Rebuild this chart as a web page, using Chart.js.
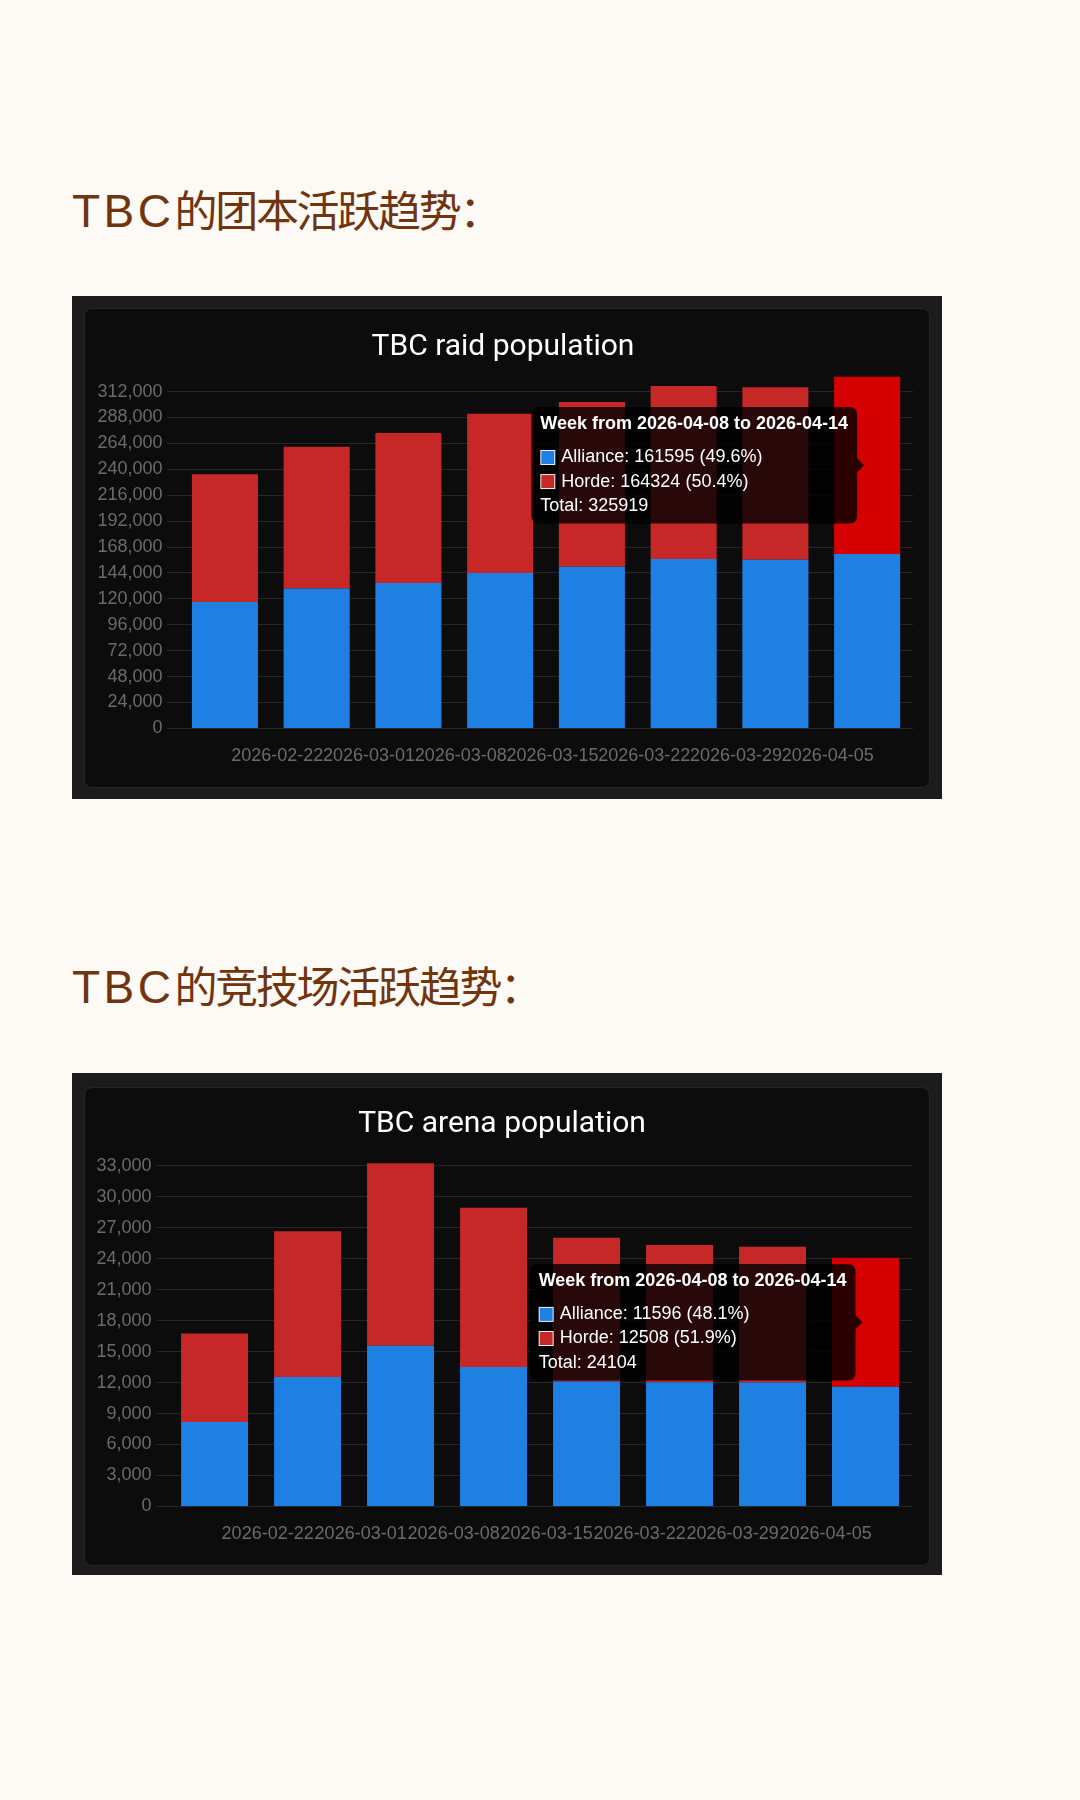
<!DOCTYPE html>
<html lang="zh">
<head>
<meta charset="UTF-8">
<title>TBC population</title>
<script src="https://cdn.jsdelivr.net/npm/chart.js@4.4.1/dist/chart.umd.min.js"></script>
<style>
  body { margin: 0; background: #fdfaf5; }
  .page { position: relative; width: 1080px; height: 1800px; }
  .heading {
    position: absolute; left: 72px; margin: 0;
    font-family: 'Liberation Sans', 'Noto Sans CJK SC', sans-serif;
    font-size: 43px; line-height: 46px; font-weight: normal; color: #70340f;
    letter-spacing: -2.3px; white-space: nowrap;
  }
  .heading span { font-size: 46px; letter-spacing: 3.5px; }
  .frame { position: absolute; left: 72px; width: 870px; background: #1c1c1c; }
  .inner {
    position: absolute; left: 12px; top: 12px; width: 846px;
    box-sizing: border-box; background: #0c0c0c;
    border: 1px solid #262626; border-radius: 8px;
  }
  .holder { position: absolute; left: 12px; top: 12px; width: 846px; }
</style>
</head>
<body>
<div class="page">
  <h2 class="heading" style="top:188px"><span>TBC</span>的团本活跃趋势：</h2>
  <div class="frame" style="top:296px; height:503px">
    <div class="inner" style="height:480px"></div>
    <div class="holder" style="height:480px"><canvas id="raidChart"></canvas></div>
  </div>

  <h2 class="heading" style="top:964px"><span>TBC</span>的竞技场活跃趋势：</h2>
  <div class="frame" style="top:1073px; height:502px">
    <div class="inner" style="top:14px; height:479px"></div>
    <div class="holder" style="top:14px; height:479px"><canvas id="arenaChart"></canvas></div>
  </div>
</div>

<script>
// weeks (bars) and the sunday tick labels between them
const weekStarts = ['2026-02-18', '2026-02-25', '2026-03-04', '2026-03-11', '2026-03-18', '2026-03-25', '2026-04-01', '2026-04-08'];
const weekEnds = ['2026-02-24', '2026-03-03', '2026-03-10', '2026-03-17', '2026-03-24', '2026-03-31', '2026-04-07', '2026-04-14'];
const xTickLabels = ['2026-02-22', '2026-03-01', '2026-03-08', '2026-03-15', '2026-03-22', '2026-03-29', '2026-04-05'];

const raidAlliance = [117000, 129700, 134600, 143900, 149800, 156900, 156300, 161595];
const raidHorde = [118500, 131200, 139000, 147600, 152600, 160300, 159700, 164324];
const raidYTicks = [0, 24000, 48000, 72000, 96000, 120000, 144000, 168000, 192000, 216000, 240000, 264000, 288000, 312000];
const raidYMax = 326000;

const arenaAlliance = [8190, 12550, 15560, 13520, 12100, 12030, 12000, 11596];
const arenaHorde = [8570, 14110, 17700, 15430, 13940, 13300, 13170, 12508];
const arenaYTicks = [0, 3000, 6000, 9000, 12000, 15000, 18000, 21000, 24000, 27000, 30000, 33000];
const arenaYMax = 34200;

const allianceColor = '#1f80e4';
const hordeColor = '#c62828';
const hordeHover = '#d50000';

Chart.defaults.font.family = "'Liberation Sans', Arial, sans-serif";
Chart.defaults.font.size = 18;
Chart.defaults.color = '#6b6b6b';

function makeChart(id, title, alliance, horde, yTicks, yMax, pad, labelOffset) {
    const ctx = document.getElementById(id).getContext('2d');
    const chart = new Chart(ctx, {
        type: 'bar',
        data: {
            labels: weekStarts,
            datasets: [{
                label: 'Alliance',
                data: alliance,
                backgroundColor: allianceColor,
                hoverBackgroundColor: allianceColor
            }, {
                label: 'Horde',
                data: horde,
                backgroundColor: hordeColor,
                hoverBackgroundColor: hordeHover
            }]
        },
        options: {
            responsive: true,
            maintainAspectRatio: false,
            animation: false,
            layout: { padding: pad },
            interaction: { mode: 'index', intersect: false },
            scales: {
                x: {
                    stacked: true,
                    grid: { display: true, drawOnChartArea: false, color: 'transparent', tickLength: 12 },
                    border: { display: false },
                    ticks: {
                        autoSkip: false, maxRotation: 0, minRotation: 0,
                        padding: 4.5, labelOffset: labelOffset,
                        callback: (v, i) => xTickLabels[i] || ''
                    }
                },
                y: {
                    stacked: true,
                    min: 0,
                    max: yMax,
                    grid: { color: '#262626', tickLength: 12 },
                    border: { display: false },
                    ticks: { autoSkip: false, padding: 4.5 },
                    afterBuildTicks: (axis) => {
                        axis.ticks = yTicks.map(v => ({ value: v }));
                    }
                }
            },
            plugins: {
                legend: { display: false },
                title: {
                    display: true,
                    text: title,
                    color: '#ffffff',
                    font: { family: 'Roboto', size: 30, weight: 'normal' },
                    padding: { top: 19, bottom: 11 }
                },
                tooltip: {
                    xAlign: 'right',
                    yAlign: 'center',
                    backgroundColor: 'rgba(0,0,0,0.8)',
                    titleColor: '#fff',
                    bodyColor: '#fff',
                    titleFont: { size: 18, weight: 'bold' },
                    bodyFont: { size: 18 },
                    padding: { left: 9, right: 9, top: 6, bottom: 7 },
                    titleMarginBottom: 12,
                    bodySpacing: 2.5,
                    caretSize: 7,
                    caretPadding: 3,
                    cornerRadius: 8,
                    boxWidth: 15,
                    boxHeight: 15,
                    boxPadding: 4,
                    callbacks: {
                        title: (items) => {
                            const i = items[0].dataIndex;
                            return 'Week from ' + weekStarts[i] + ' to ' + weekEnds[i];
                        },
                        label: (item) => {
                            const i = item.dataIndex;
                            const total = alliance[i] + horde[i];
                            return item.dataset.label + ': ' + item.raw + ' (' + (item.raw / total * 100).toFixed(1) + '%)';
                        },
                        afterBody: (items) => {
                            const i = items[0].dataIndex;
                            return 'Total: ' + (alliance[i] + horde[i]);
                        }
                    }
                }
            }
        }
    });

    // show the hover state of the last week, as in the screenshot
    const last = weekStarts.length - 1;
    const active = [{ datasetIndex: 0, index: last }, { datasetIndex: 1, index: last }];
    chart.setActiveElements(active);
    chart.tooltip.setActiveElements(active, { x: 0, y: 0 });
    chart.update();
    return chart;
}

makeChart('raidChart', 'TBC raid population', raidAlliance, raidHorde, raidYTicks, raidYMax,
    { left: 9, right: 17, top: 2.5, bottom: 17 }, 52.4);
makeChart('arenaChart', 'TBC arena population', arenaAlliance, arenaHorde, arenaYTicks, arenaYMax,
    { left: 8, right: 18, top: 0.5, bottom: 17 }, 53.1);
</script>
</body>
</html>
